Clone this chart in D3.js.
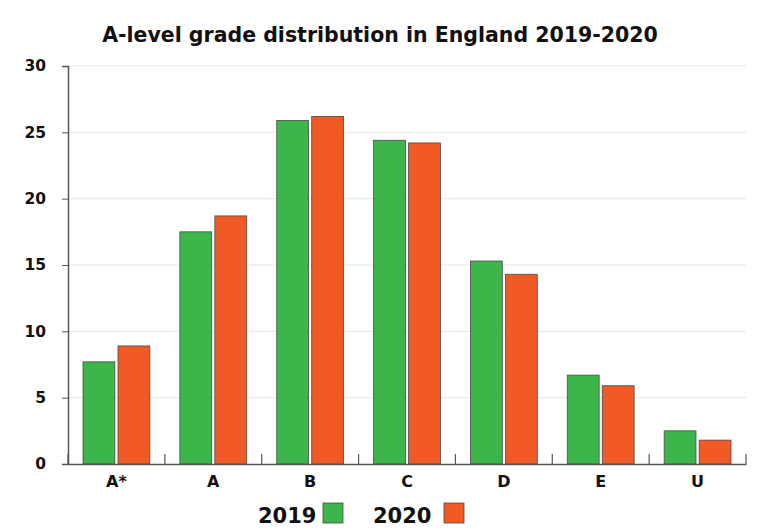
<!DOCTYPE html>
<html>
<head>
<meta charset="utf-8">
<script src="https://cdn.jsdelivr.net/npm/d3@7"></script>
<style>
  body { margin: 0; background: #fff; }
  text { font-family: "DejaVu Sans", sans-serif; font-weight: bold; fill: #111; }
</style>
</head>
<body>
<div id="chart"></div>
<script>
'use strict';

const grades = ['A*', 'A', 'B', 'C', 'D', 'E', 'U'];
const years = ['2019', '2020'];
const values2019 = [7.7, 17.5, 25.9, 24.4, 15.3, 6.7, 2.5];
const values2020 = [8.9, 18.7, 26.2, 24.2, 14.3, 5.9, 1.8];
const yTicks = [0, 5, 10, 15, 20, 25, 30];

const colors = {'2019': '#3cb54a', '2020': '#f15a24'};

const width = 768, height = 531;
const margin = {top: 66, right: 22, bottom: 67, left: 68};

const svg = d3.select('#chart')
  .append('svg')
    .attr('width', width)
    .attr('height', height);

const x = d3.scaleBand()
  .domain(grades)
  .range([margin.left, width - margin.right])
  .padding(0);

const xSub = d3.scaleBand()
  .domain(years)
  .range([x.bandwidth() * 0.155, x.bandwidth() * 0.845])
  .paddingInner(0.09);

const y = d3.scaleLinear()
  .domain([0, 30])
  .range([height - margin.bottom, margin.top]);

// title
svg.append('text')
  .attr('x', 380)
  .attr('y', 42)
  .attr('text-anchor', 'middle')
  .style('font-size', '20.5px')
  .text('A-level grade distribution in England 2019-2020');

// gridlines
svg.append('g')
  .selectAll('line')
  .data(yTicks.slice(1))
  .join('line')
    .attr('x1', margin.left)
    .attr('x2', width - margin.right)
    .attr('y1', d => y(d))
    .attr('y2', d => y(d))
    .attr('stroke', '#e6e6e6')
    .attr('stroke-width', 1);

// y axis
const yAxis = svg.append('g')
  .attr('transform', `translate(${margin.left},0)`)
  .call(d3.axisLeft(y).tickValues(yTicks).tickSize(6).tickPadding(16));
yAxis.select('.domain').attr('stroke', '#555').attr('stroke-width', 1.5);
yAxis.selectAll('.tick line').attr('stroke', '#555');
yAxis.selectAll('.tick text').style('font-size', '15.5px').attr('fill', '#111');

// bars
const data = grades.map((g, i) => ({grade: g, values: [
  {year: '2019', value: values2019[i]},
  {year: '2020', value: values2020[i]}
]}));

svg.append('g')
  .selectAll('g')
  .data(data)
  .join('g')
    .attr('transform', d => `translate(${x(d.grade)},0)`)
  .selectAll('rect')
  .data(d => d.values)
  .join('rect')
    .attr('x', d => xSub(d.year))
    .attr('y', d => y(d.value))
    .attr('width', xSub.bandwidth())
    .attr('height', d => y(0) - y(d.value))
    .attr('fill', d => colors[d.year])
    .attr('stroke', '#4a4a4a')
    .attr('stroke-width', 0.8);

// x axis
const xAxis = svg.append('g')
  .attr('transform', `translate(0,${y(0)})`)
  .call(d3.axisBottom(x).tickSize(0).tickPadding(12));
xAxis.select('.domain').attr('stroke', '#555').attr('stroke-width', 1.5);
xAxis.selectAll('.tick text').style('font-size', '16px').attr('fill', '#111');

// boundary ticks pointing up
xAxis.append('g')
  .selectAll('line')
  .data(grades.concat(['end']))
  .join('line')
    .attr('x1', (d, i) => margin.left + i * x.step())
    .attr('x2', (d, i) => margin.left + i * x.step())
    .attr('y1', 0)
    .attr('y2', -10)
    .attr('stroke', '#555')
    .attr('stroke-width', 1.2);

// legend
const legend = svg.append('g').attr('transform', `translate(0,${height - 8})`);
const legendPos = [{year: '2019', tx: 258, rx: 323}, {year: '2020', tx: 373, rx: 444}];
legendPos.forEach(p => {
  legend.append('text')
    .attr('x', p.tx)
    .attr('y', 0)
    .style('font-size', '21px')
    .text(p.year);
  legend.append('rect')
    .attr('x', p.rx)
    .attr('y', -20)
    .attr('width', 20)
    .attr('height', 20)
    .attr('fill', colors[p.year])
    .attr('stroke', '#4a4a4a')
    .attr('stroke-width', 0.8);
});
</script>
</body>
</html>
